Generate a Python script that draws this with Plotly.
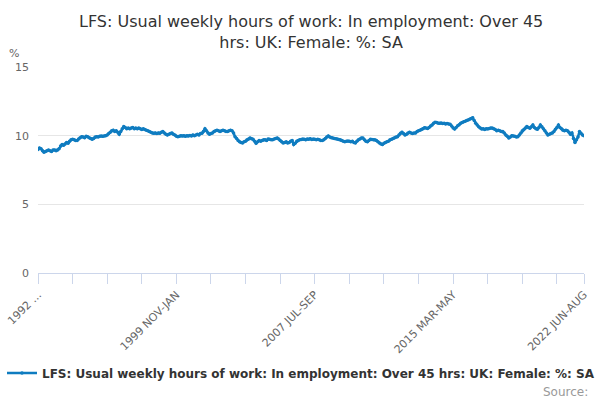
import plotly.graph_objects as go

months = ["JAN", "FEB", "MAR", "APR", "MAY", "JUN", "JUL", "AUG", "SEP", "OCT", "NOV", "DEC"]

# Rolling three-month periods from 1992 MAR-MAY to 2022 JUN-AUG
categories = []
for k in range(364):
    m = 2 + k  # start month index (MAR 1992)
    year = 1992 + m // 12
    s = m % 12
    categories.append(f"{year} {months[s]}-{months[(s + 2) % 12]}")

values = [
    9.0, 9.1, 9.05, 8.9, 8.8, 8.85, 8.9, 8.95, 8.9, 8.85, 8.95, 8.95,
    8.9, 8.95, 9.05, 9.25, 9.35, 9.3, 9.4, 9.5, 9.45, 9.6, 9.7, 9.74,
    9.7, 9.65, 9.64, 9.75, 9.85, 9.93, 9.9, 9.85, 9.95, 9.93, 9.85, 9.8,
    9.74, 9.8, 9.9, 9.93, 9.9, 9.95, 9.98, 9.95, 9.98, 10.0, 10.05, 10.15,
    10.25, 10.36, 10.4, 10.3, 10.36, 10.25, 10.1, 10.3, 10.5, 10.66, 10.6, 10.5,
    10.55, 10.5, 10.55, 10.6, 10.5, 10.55, 10.5, 10.55, 10.5, 10.45, 10.5, 10.45,
    10.4, 10.35, 10.3, 10.25, 10.2, 10.17, 10.2, 10.15, 10.2, 10.17, 10.25, 10.3,
    10.2, 10.1, 10.05, 10.1, 10.15, 10.2, 10.1, 10.05, 9.95, 9.93, 9.95, 10.0,
    9.98, 10.0, 9.95, 10.0, 9.98, 10.02, 9.98, 10.05, 10.0, 10.05, 10.1, 10.05,
    10.15, 10.17, 10.3, 10.5, 10.35, 10.2, 10.1, 10.15, 10.2, 10.3, 10.35, 10.4,
    10.35, 10.3, 10.35, 10.4, 10.36, 10.3, 10.3, 10.35, 10.4, 10.36, 10.2, 9.93,
    9.8, 9.65, 9.56, 9.5, 9.47, 9.55, 9.6, 9.7, 9.75, 9.83, 9.78, 9.74,
    9.6, 9.44, 9.55, 9.64, 9.6, 9.65, 9.7, 9.7, 9.65, 9.75, 9.74, 9.7,
    9.7, 9.75, 9.8, 9.83, 9.75, 9.65, 9.55, 9.47, 9.5, 9.55, 9.47, 9.5,
    9.6, 9.64, 9.35, 9.45, 9.6, 9.65, 9.7, 9.72, 9.75, 9.74, 9.7, 9.75,
    9.74, 9.78, 9.72, 9.75, 9.74, 9.7, 9.74, 9.7, 9.65, 9.64, 9.7, 9.8,
    9.9, 9.98, 9.9, 9.85, 9.83, 9.8, 9.78, 9.75, 9.72, 9.7, 9.65, 9.6,
    9.56, 9.6, 9.62, 9.6, 9.55, 9.6, 9.5, 9.47, 9.6, 9.7, 9.75, 9.83,
    9.83, 9.7, 9.6, 9.56, 9.65, 9.74, 9.72, 9.7, 9.7, 9.65, 9.55, 9.47,
    9.4, 9.35, 9.45, 9.5, 9.56, 9.6, 9.7, 9.74, 9.8, 9.85, 9.9, 9.93,
    10.05, 10.17, 10.25, 10.15, 10.05, 10.1, 10.2, 10.25, 10.2, 10.15, 10.2, 10.2,
    10.3, 10.35, 10.4, 10.45, 10.5, 10.58, 10.55, 10.53, 10.6, 10.7, 10.78, 10.9,
    10.97, 10.95, 10.9, 10.9, 10.92, 10.88, 10.9, 10.85, 10.88, 10.85, 10.83, 10.7,
    10.55, 10.49, 10.6, 10.73, 10.8, 10.9, 10.95, 11.02, 11.05, 11.1, 11.14, 11.2,
    11.25, 11.31, 11.1, 10.9, 10.78, 10.65, 10.55, 10.49, 10.5, 10.45, 10.5, 10.49,
    10.52, 10.56, 10.55, 10.5, 10.45, 10.36, 10.4, 10.35, 10.3, 10.3, 10.2, 10.05,
    9.95, 9.83, 9.9, 10.0, 9.98, 9.95, 9.9, 9.93, 10.05, 10.2, 10.36, 10.45,
    10.55, 10.66, 10.6, 10.54, 10.65, 10.78, 10.6, 10.5, 10.46, 10.6, 10.78, 10.65,
    10.5, 10.36, 10.2, 10.05, 10.1, 10.15, 10.2, 10.3, 10.46, 10.6, 10.78, 10.6,
    10.5, 10.4, 10.35, 10.4, 10.36, 10.25, 10.1, 10.2, 9.8, 9.5, 9.7, 9.9,
    10.3, 10.17, 10.05, 10.0,
]

series_name = "LFS: Usual weekly hours of work: In employment: Over 45 hrs: UK: Female: %: SA"
title_text = "LFS: Usual weekly hours of work: In employment: Over 45<br>hrs: UK: Female: %: SA"

tick_idx = list(range(0, 364, 23)) + [363]
tick_labels = {0: "1992 ...", 92: "1999 NOV-JAN", 184: "2007 JUL-SEP", 276: "2015 MAR-MAY", 363: "2022 JUN-AUG"}
tickvals = [categories[i] for i in tick_idx]
ticktext = [tick_labels.get(i, "") for i in tick_idx]

FONT = "DejaVu Sans"
BLUE = "#0f7cc0"

fig = go.Figure()
fig.add_trace(go.Scatter(
    x=categories, y=values, mode="lines+markers",
    name="<b>" + series_name + "</b>",
    line=dict(color=BLUE, width=2.5),
    marker=dict(color=BLUE, size=3.5),
))

fig.update_layout(
    width=600, height=400,
    margin=dict(l=38, r=16, t=67, b=127),
    paper_bgcolor="white", plot_bgcolor="white",
    font=dict(family=FONT, color="#333333"),
    showlegend=True,
    legend=dict(orientation="h", x=0.5, xanchor="center", y=-0.485, yanchor="middle",
                font=dict(size=12, color="#333333", family=FONT)),
    xaxis=dict(
        type="category", range=[0, 363], automargin=False,
        tickmode="array", tickvals=tickvals, ticktext=ticktext,
        tickangle=-45, ticks="outside", ticklen=10, tickcolor="#ccd6eb",
        showline=True, linecolor="#ccd6eb", linewidth=1,
        showgrid=False, zeroline=False,
        tickfont=dict(size=11, color="#666666", family=FONT),
    ),
    yaxis=dict(
        range=[0, 15], dtick=5, tick0=0, automargin=False,
        showgrid=True, gridcolor="#e6e6e6", gridwidth=1,
        zeroline=False, showline=False,
        tickfont=dict(size=11, color="#666666", family=FONT),
        ticks="", ticklabelstandoff=8,
    ),
    annotations=[
        dict(text=title_text, xref="paper", yref="paper", x=0.5, y=1.278, xanchor="center", yanchor="top",
             showarrow=False, font=dict(size=16, color="#333333", family=FONT)),
        dict(text="%", xref="paper", yref="paper", x=-0.044, y=1.064, xanchor="center", yanchor="middle",
             showarrow=False, font=dict(size=11, color="#666666", family=FONT)),
        dict(text="Source:", xref="paper", yref="paper", x=1.011, y=-0.58, xanchor="right", yanchor="middle",
             showarrow=False, font=dict(size=12, color="#999999", family=FONT)),
    ],
)

fig.write_html("out.html")
